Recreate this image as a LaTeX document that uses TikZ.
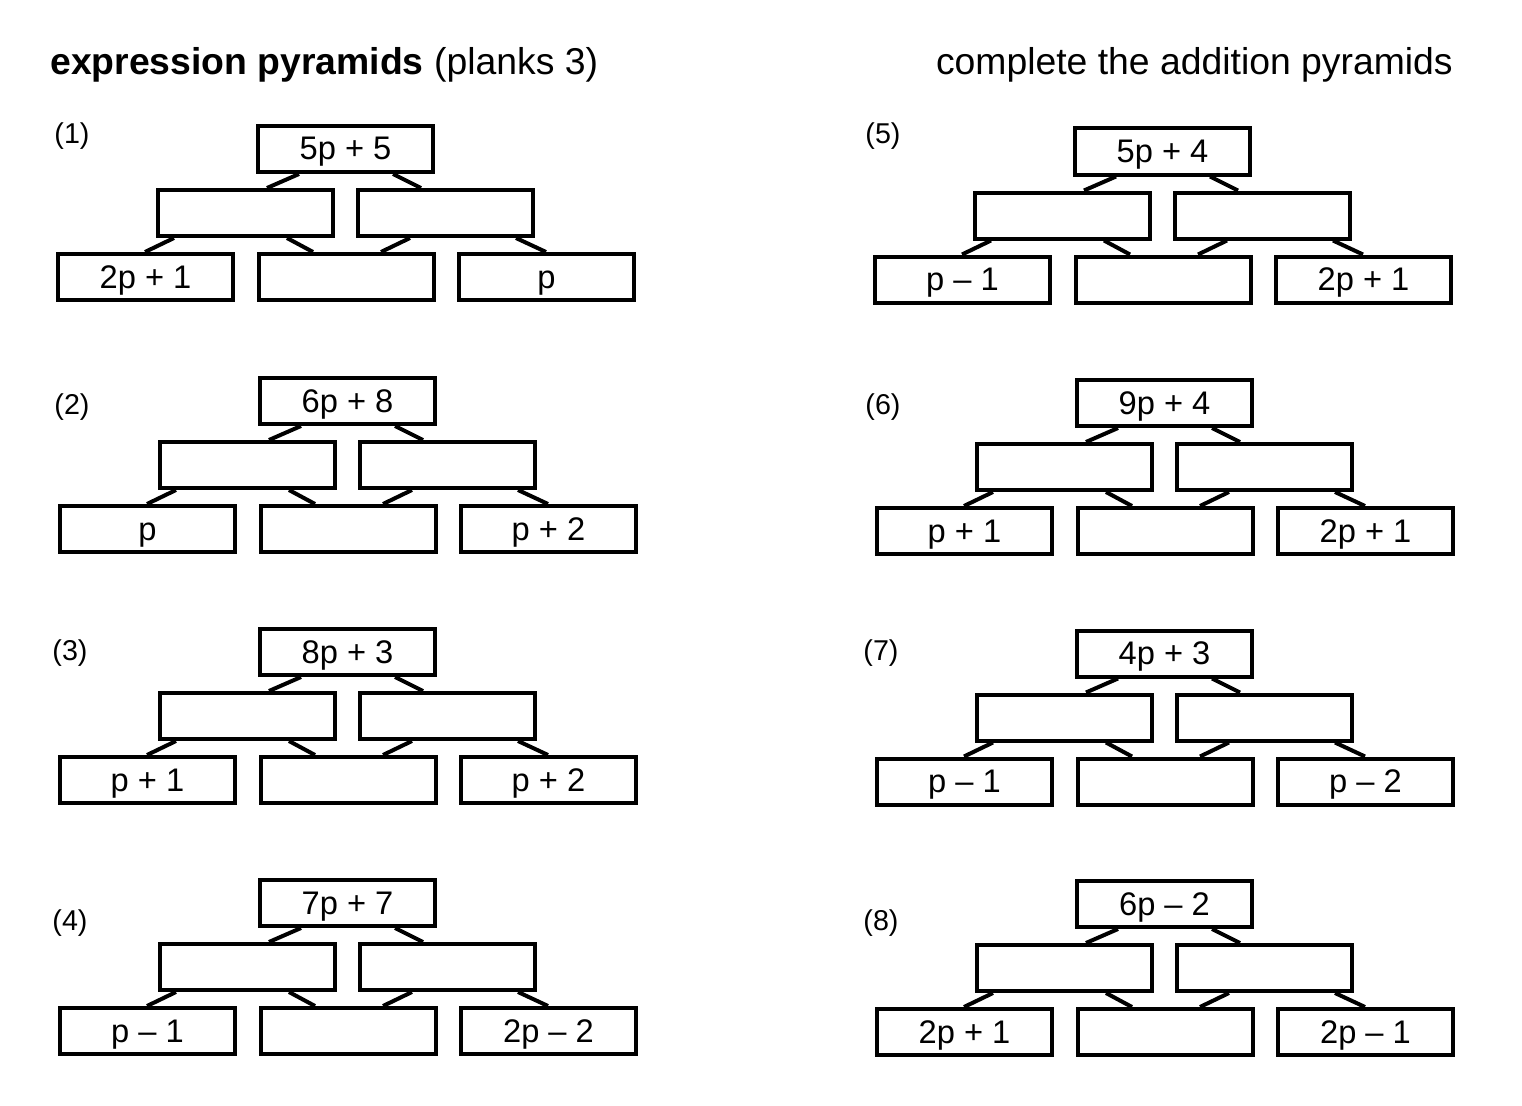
\documentclass[tikz,border=0pt]{standalone}
\usepackage{fontspec}
\setmainfont{Liberation Sans}
\usetikzlibrary{calc}
\tikzset{
  box/.style={draw, line width=3pt, minimum width=131.25pt, minimum height=34.5pt, inner sep=0pt,
    text height=17.5pt, text depth=1pt, font=\fontsize{24.5}{28}\selectfont},
  link/.style={line width=3pt},
  numlabel/.style={font=\fontsize{21.5}{24}\selectfont, inner sep=0pt},
}
\newcommand{\pyr}[6]{%
  % #1 id, #2 x0, #3 top centre y, #4 top text, #5 bottom-left text, #6 bottom-right text
  \node[box] (#1t)  at (#2+289.5,#3) {#4};
  \node[box] (#1ml) at (#2+189.5,#3+64) {};
  \node[box] (#1mr) at (#2+389.5,#3+64) {};
  \node[box] (#1bl) at (#2+89.5,#3+128) {#5};
  \node[box] (#1bm) at (#2+290.5,#3+128) {};
  \node[box] (#1br) at (#2+490.5,#3+128) {#6};
  \draw[link] ($(#1t.south west)+(43,0)$) -- ($(#1ml.north west)+(111,0)$);
  \draw[link] ($(#1t.south west)+(137,0)$) -- ($(#1mr.north west)+(65,0)$);
  \draw[link] ($(#1ml.south west)+(18,0)$) -- ($(#1bl.north west)+(89,0)$);
  \draw[link] ($(#1ml.south west)+(131,0)$) -- ($(#1bm.north west)+(56,0)$);
  \draw[link] ($(#1mr.south west)+(54,0)$) -- ($(#1bm.north west)+(124,0)$);
  \draw[link] ($(#1mr.south west)+(160,0)$) -- ($(#1br.north west)+(89,0)$);
}
\begin{document}
\begin{tikzpicture}[x=0.75pt,y=-0.75pt]
\useasboundingbox (0,0) rectangle (1522,1106);
\node[anchor=base west, inner sep=0pt, font=\fontsize{28}{32}\selectfont] (title) at (50,75) {\textbf{expression pyramids} (planks 3)};
\node[anchor=base east, inner sep=0pt, font=\fontsize{28}{32}\selectfont] (subtitle) at (1453,75) {complete the addition pyramids};

\pyr{a}{56}{149}{5p + 5}{2p + 1}{p}
\pyr{b}{58}{401}{6p + 8}{p}{p + 2}
\pyr{c}{58}{652}{8p + 3}{p + 1}{p + 2}
\pyr{d}{58}{903}{7p + 7}{p – 1}{2p – 2}
\pyr{e}{873}{151.5}{5p + 4}{p – 1}{2p + 1}
\pyr{f}{875}{403}{9p + 4}{p + 1}{2p + 1}
\pyr{g}{875}{653.5}{4p + 3}{p – 1}{p – 2}
\pyr{h}{875}{904}{6p – 2}{2p + 1}{2p – 1}

\node[numlabel] (l1) at (72,136) {(1)};
\node[numlabel] (l2) at (72,407) {(2)};
\node[numlabel] (l3) at (70,653) {(3)};
\node[numlabel] (l4) at (70,923) {(4)};
\node[numlabel] (l5) at (883,136) {(5)};
\node[numlabel] (l6) at (883,407) {(6)};
\node[numlabel] (l7) at (881,653) {(7)};
\node[numlabel] (l8) at (881,923) {(8)};
\end{tikzpicture}
\end{document}
